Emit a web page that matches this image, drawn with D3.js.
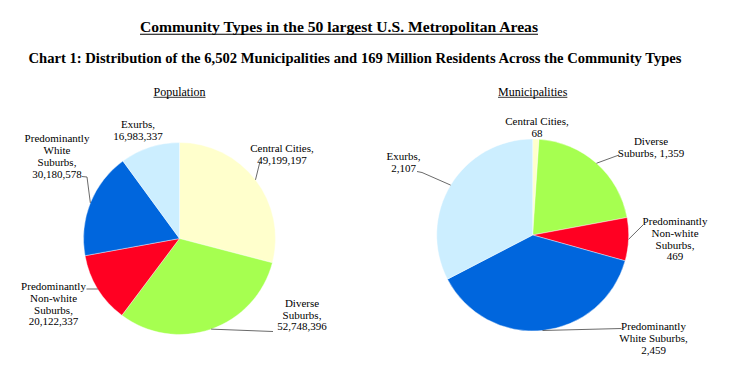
<!DOCTYPE html>
<html>
<head>
<meta charset="utf-8">
<script src="https://cdn.jsdelivr.net/npm/d3@7"></script>
<style>
  html, body { margin: 0; padding: 0; background: #fff; }
  svg { display: block; }
  text { font-family: "Liberation Serif", "Times New Roman", serif; fill: #000; }
</style>
</head>
<body>
<svg id="chart" width="754" height="381"></svg>
<script>
// ---- data ----
const categories = ["Central Cities", "Diverse Suburbs", "Predominantly Non-white Suburbs", "Predominantly White Suburbs", "Exurbs"];
const populationValues = [49199197, 52748396, 20122337, 30180578, 16983337];
const municipalityValues = [68, 1359, 469, 2459, 2107];
const populationLabels = [
  ["Central Cities,", "49,199,197"],
  ["Diverse", "Suburbs,", "52,748,396"],
  ["Predominantly", "Non-white", "Suburbs,", "20,122,337"],
  ["Predominantly", "White", "Suburbs,", "30,180,578"],
  ["Exurbs,", "16,983,337"]
];
const municipalityLabels = [
  ["Central Cities,", "68"],
  ["Diverse", "Suburbs, 1,359"],
  ["Predominantly", "Non-white", "Suburbs,", "469"],
  ["Predominantly", "White Suburbs,", "2,459"],
  ["Exurbs,", "2,107"]
];
const mainTitle = "Community Types in the 50 largest U.S. Metropolitan Areas";
const subTitle = "Chart 1: Distribution of the 6,502 Municipalities and 169 Million Residents Across the Community Types";
const panelTitles = ["Population", "Municipalities"];

// ---- style / layout ----
const colors = ["#FFFFCC", "#A6FF50", "#FF0022", "#0066DD", "#CCEEFF"];
const R = 96;
const lineH = 11.8;
const labelFont = 11;

// label layout: x center, first baseline y, leader start points (null = no leader)
const popLayout = [
  { x: 282, y: 151.7, leader: [[260, 161.5]] },
  { x: 302, y: 306.7, leader: [[273, 331.5]] },
  { x: 53.5, y: 290, leader: [[86.5, 289]] },
  { x: 57, y: 142.3, leader: [[82, 176.5], [87, 177]] },
  { x: 138, y: 128.3, leader: null }
];
const munLayout = [
  { x: 537, y: 125, leader: null },
  { x: 651, y: 145, leader: [[619, 155]] },
  { x: 675, y: 225, leader: [[643, 225]] },
  { x: 653.5, y: 330, leader: [[621.5, 328.5]] },
  { x: 403.5, y: 160, leader: [[417, 171.5], [422, 172.5]] }
];

const svg = d3.select("#chart");

function underlinedText(x, y, str, size, weight, width) {
  const t = svg.append("text")
    .attr("x", x).attr("y", y)
    .attr("text-anchor", "middle")
    .attr("font-size", size)
    .attr("font-weight", weight)
    .text(str);
  if (width) t.attr("textLength", width).attr("lengthAdjust", "spacingAndGlyphs");
  return t;
}

// titles
const t1 = underlinedText(339, 31.7, mainTitle, 14.5, "bold", 398);
svg.append("line").attr("x1", 140).attr("x2", 538).attr("y1", 34.2).attr("y2", 34.2)
  .attr("stroke", "#000").attr("stroke-width", 1.1);
underlinedText(355, 63.3, subTitle, 14.5, "bold", 653);

function drawPie(cx, cy, values, labels, layout, title) {
  const g = svg.append("g");
  // panel title
  const tt = g.append("text").attr("x", cx).attr("y", 95.5)
    .attr("text-anchor", "middle").attr("font-size", 12).text(title);
  const w = tt.node().getComputedTextLength();
  g.append("line").attr("x1", cx - w / 2).attr("x2", cx + w / 2)
    .attr("y1", 97.3).attr("y2", 97.3).attr("stroke", "#000").attr("stroke-width", 0.8);

  const pie = d3.pie().sort(null).value(d => d)(values);
  const arc = d3.arc().innerRadius(0).outerRadius(R);
  const pg = g.append("g").attr("transform", `translate(${cx},${cy})`);
  pg.selectAll("path").data(pie).join("path")
    .attr("d", arc)
    .attr("fill", (d, i) => colors[i])
    .attr("stroke", "#fff").attr("stroke-width", 0.4);

  // leaders
  pie.forEach((d, i) => {
    const L = layout[i];
    if (!L.leader) return;
    const a = (d.startAngle + d.endAngle) / 2;
    const end = [cx + R * Math.sin(a), cy - R * Math.cos(a)];
    const pts = L.leader.concat([end]);
    g.append("path")
      .attr("d", d3.line()(pts))
      .attr("fill", "none").attr("stroke", "#444").attr("stroke-width", 0.8);
  });

  // labels
  labels.forEach((lines, i) => {
    const L = layout[i];
    const t = g.append("text").attr("text-anchor", "middle").attr("font-size", labelFont);
    lines.forEach((s, j) => {
      t.append("tspan").attr("x", L.x).attr("y", L.y + j * lineH).text(s);
    });
  });
}

drawPie(179.5, 238.5, populationValues, populationLabels, popLayout, panelTitles[0]);
drawPie(532.7, 235, municipalityValues, municipalityLabels, munLayout, panelTitles[1]);
</script>
</body>
</html>
